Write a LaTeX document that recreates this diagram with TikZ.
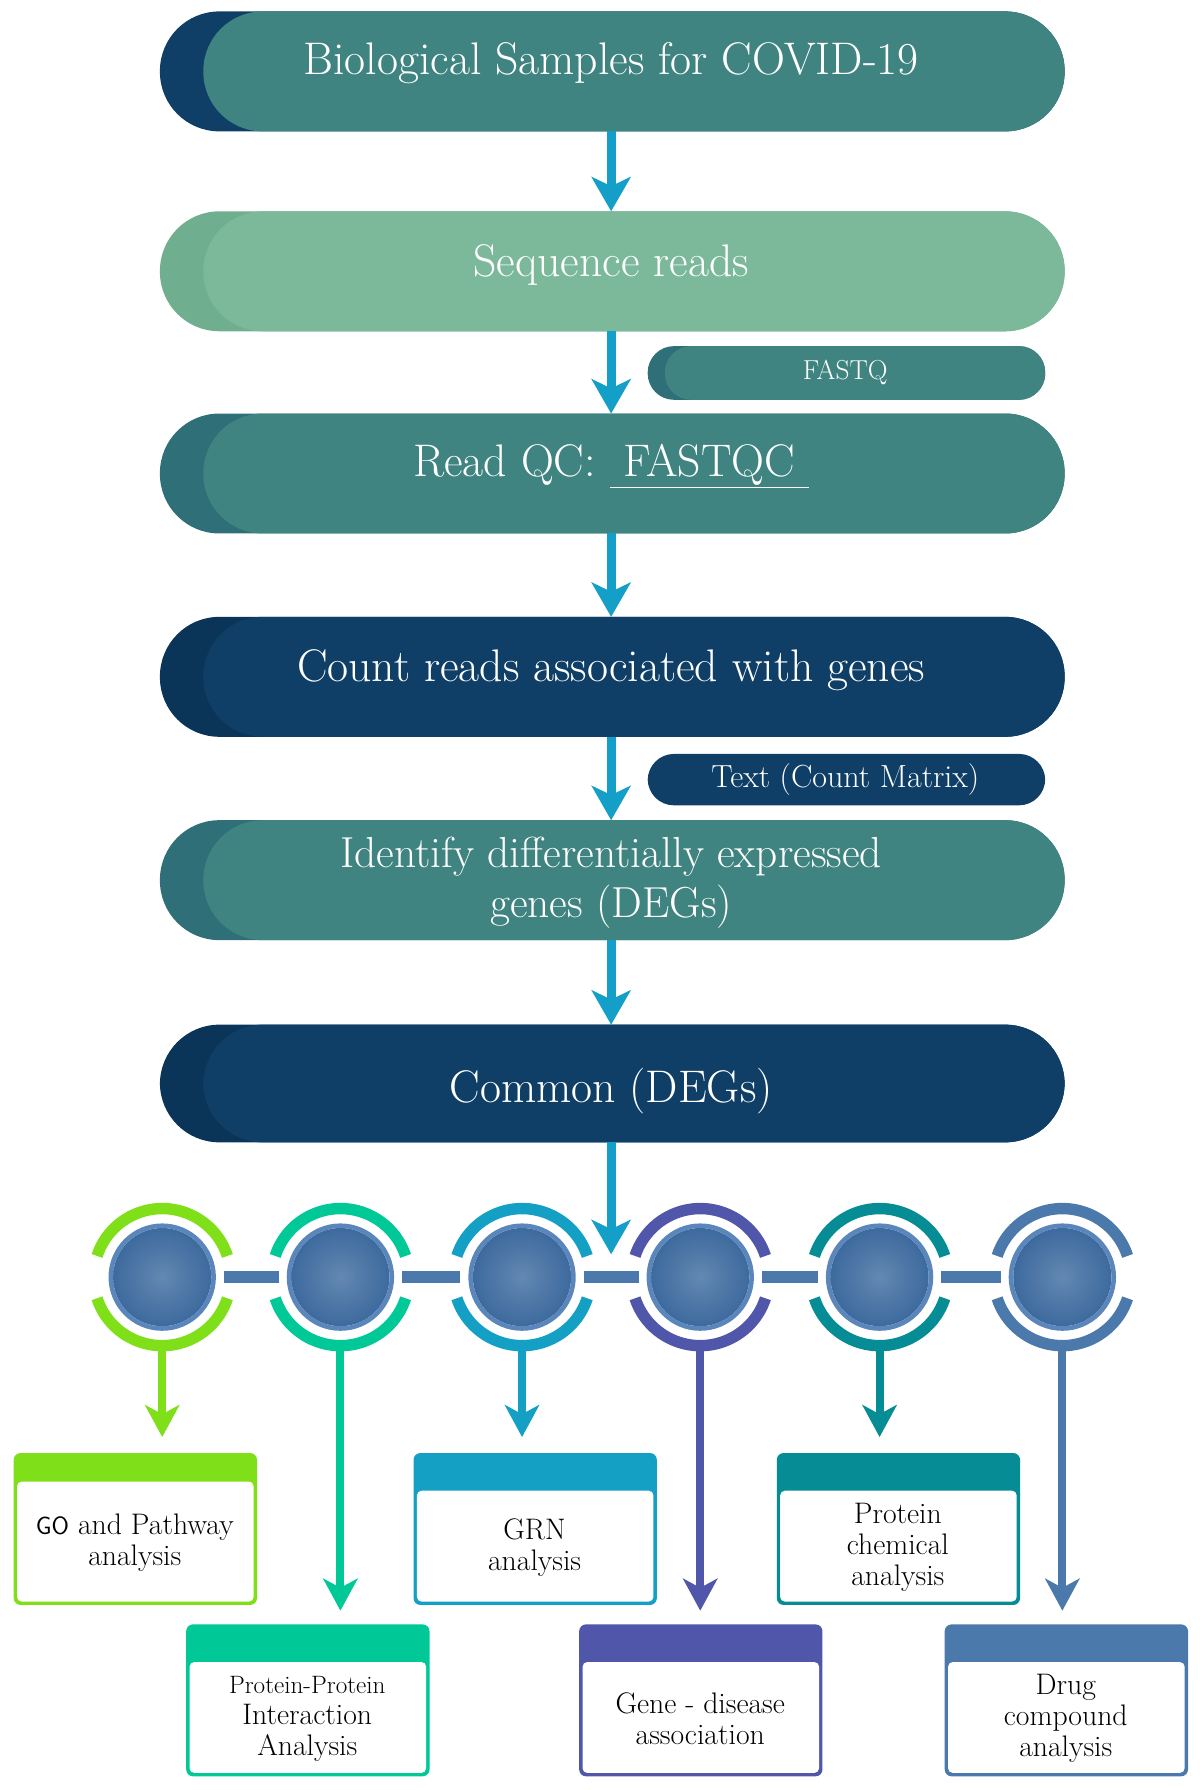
\documentclass[tikz,border=0pt]{standalone}
\usetikzlibrary{arrows.meta}
\definecolor{teal1}{HTML}{3F8480}
\definecolor{tealdk}{HTML}{2F6F78}
\definecolor{navy}{HTML}{0F3F66}
\definecolor{navydk}{HTML}{0A3558}
\definecolor{mint}{HTML}{7BB99A}
\definecolor{mintdk}{HTML}{70AE90}
\definecolor{arr}{HTML}{139FC8}
\definecolor{cGO}{HTML}{7FE01A}
\definecolor{cPPI}{HTML}{00C896}
\definecolor{cGRN}{HTML}{13A0C4}
\definecolor{cGEN}{HTML}{5057AA}
\definecolor{cPCH}{HTML}{068C94}
\definecolor{cDRG}{HTML}{4C79AC}
\definecolor{ball}{HTML}{3D6A9E}
\definecolor{ballrim}{HTML}{5A86BB}
\begin{document}
\begin{tikzpicture}[x=1pt,y=-1pt,
  flow/.style={line width=8pt,draw=arr,-{Stealth[length=30pt,width=34pt,inset=8pt]}},
  ptxt/.style={text=white,font=\fontsize{40}{44}\selectfont,align=center},
  stxt/.style={text=white,font=\fontsize{28}{30}\selectfont},
  btxt/.style={align=center,font=\fontsize{26}{27}\selectfont,text=black},
  ring/.style={line width=10pt},
  bar/.style={line width=11pt,draw=cDRG}]
\useasboundingbox (0,0) rectangle (1050,1567);
% pills
\newcommand{\pill}[6]{% y1 y2 darkcol col shift name
  \fill[#3] (140,#1) rectangle[rounded corners=52pt] (932,#2);
  \fill[#3,rounded corners=52pt] (140,#1) rectangle (932,#2);
  \fill[#4,rounded corners=52pt] (140+#5,#1) rectangle (932,#2);
  \coordinate (#6t) at (535,#1); \coordinate (#6b) at (535,#2);}
\fill[navy,rounded corners=52pt] (140,10) rectangle (932,115);
\fill[teal1,rounded corners=52pt] (178,10) rectangle (932,115);
\node[ptxt] (p1) at (535,55) {Biological Samples for COVID-19};
\fill[mintdk,rounded corners=52pt] (140,185) rectangle (932,290);
\fill[mint,rounded corners=52pt] (178,185) rectangle (932,290);
\node[ptxt] (p2) at (535,232) {Sequence reads};
\fill[tealdk,rounded corners=52pt] (140,362) rectangle (932,467);
\fill[teal1,rounded corners=52pt] (178,362) rectangle (932,467);
\node[ptxt] (p3) at (535,408) {Read QC: \underline{\ FASTQC\ }};
\fill[navydk,rounded corners=52pt] (140,540) rectangle (932,645);
\fill[navy,rounded corners=52pt] (178,540) rectangle (932,645);
\node[ptxt] (p4) at (535,587) {Count reads associated with genes};
\fill[tealdk,rounded corners=52pt] (140,718) rectangle (932,823);
\fill[teal1,rounded corners=52pt] (178,718) rectangle (932,823);
\node[ptxt,font=\fontsize{38}{44}\selectfont] (p5) at (535,773) {Identify differentially expressed\\genes (DEGs)};
\fill[navydk,rounded corners=52pt] (140,897) rectangle (932,1000);
\fill[navy,rounded corners=52pt] (178,897) rectangle (932,1000);
\node[ptxt] (p6) at (535,955) {Common (DEGs)};
% small pills
\fill[tealdk,rounded corners=23pt] (567,303) rectangle (915,350);
\fill[teal1,rounded corners=23pt] (582,303) rectangle (915,350);
\node[stxt,font=\fontsize{24}{26}\selectfont] (s1) at (740,326) {FASTQ};
\fill[navy,rounded corners=23pt] (567,660) rectangle (915,705);
\node[stxt] (s2) at (740,682) {Text (Count Matrix)};
% arrows
\coordinate (a1) at (535,115); \coordinate (b1) at (535,185);
\coordinate (a2) at (535,290); \coordinate (b2) at (535,362);
\coordinate (a3) at (535,467); \coordinate (b3) at (535,540);
\coordinate (a4) at (535,645); \coordinate (b4) at (535,718);
\coordinate (a5) at (535,823); \coordinate (b5) at (535,897);
\coordinate (a6) at (535,1000); \coordinate (b6) at (535,1098);
\foreach \i in {1,...,5} \draw[flow] (a\i) -- (b\i);
% bars between circles
\foreach \xa/\xb in {142/298,298/457,457/613,613/770,770/930}
  \draw[bar] (\xa+54,1118) -- (\xb-54,1118);
\draw[flow] (a6) -- (b6);
% circles
\foreach \x/\c/\n in {142/cGO/c1,298/cPPI/c2,457/cGRN/c3,613/cGEN/c4,770/cPCH/c5,930/cDRG/c6}{
  \draw[ring,draw=\c] (\x,1118) ++(18:60) arc[start angle=18,end angle=162,radius=60];
  \draw[ring,draw=\c] (\x,1118) ++(-18:60) arc[start angle=-18,end angle=-162,radius=60];
  \shade[inner color=ball!80!white,outer color=ball] (\x,1118) circle (43);
  \draw[line width=4pt,draw=ballrim] (\x,1118) circle (45);
  \node[circle,minimum size=120pt] (\n) at (\x,1118) {};
}
% boxes
\newcommand{\dbox}[6]{% x1 y1 color name text hdr
  \fill[#3,rounded corners=6pt] (#1,#2) rectangle (#1+213,#2+133);
  \fill[white,rounded corners=4pt] (#1+3,#2+#6) rectangle (#1+210,#2+130);
  \node[btxt] (#4) at (#1+106,#2+#6/2+66) {#5};}
\dbox{12}{1272}{cGO}{bGO}{{\sffamily\fontsize{22}{24}\selectfont GO} and Pathway\\analysis}{25}
\dbox{362}{1272}{cGRN}{bGRN}{GRN\\analysis}{33}
\dbox{680}{1272}{cPCH}{bPCH}{Protein\\chemical\\analysis}{33}
\dbox{163}{1422}{cPPI}{bPPI}{\fontsize{22}{30}\selectfont Protein-Protein\\Interaction\\Analysis}{33}
\dbox{507}{1422}{cGEN}{bGEN}{Gene - disease\\association}{33}
\dbox{827}{1422}{cDRG}{bDRG}{Drug\\compound\\analysis}{33}
% down arrows
\foreach \n/\b/\c in {c1/bGO/cGO,c3/bGRN/cGRN,c5/bPCH/cPCH}
  \draw[flow,draw=\c,line width=7pt,-{Stealth[length=28pt,width=30pt,inset=8pt]}] (\n.south) -- (\n.south |- 0,1258);
\foreach \n/\b/\c in {c2/bPPI/cPPI,c4/bGEN/cGEN,c6/bDRG/cDRG}
  \draw[flow,draw=\c,line width=7pt,-{Stealth[length=28pt,width=30pt,inset=8pt]}] (\n.south) -- (\n.south |- 0,1410);
\end{tikzpicture}
\end{document}
